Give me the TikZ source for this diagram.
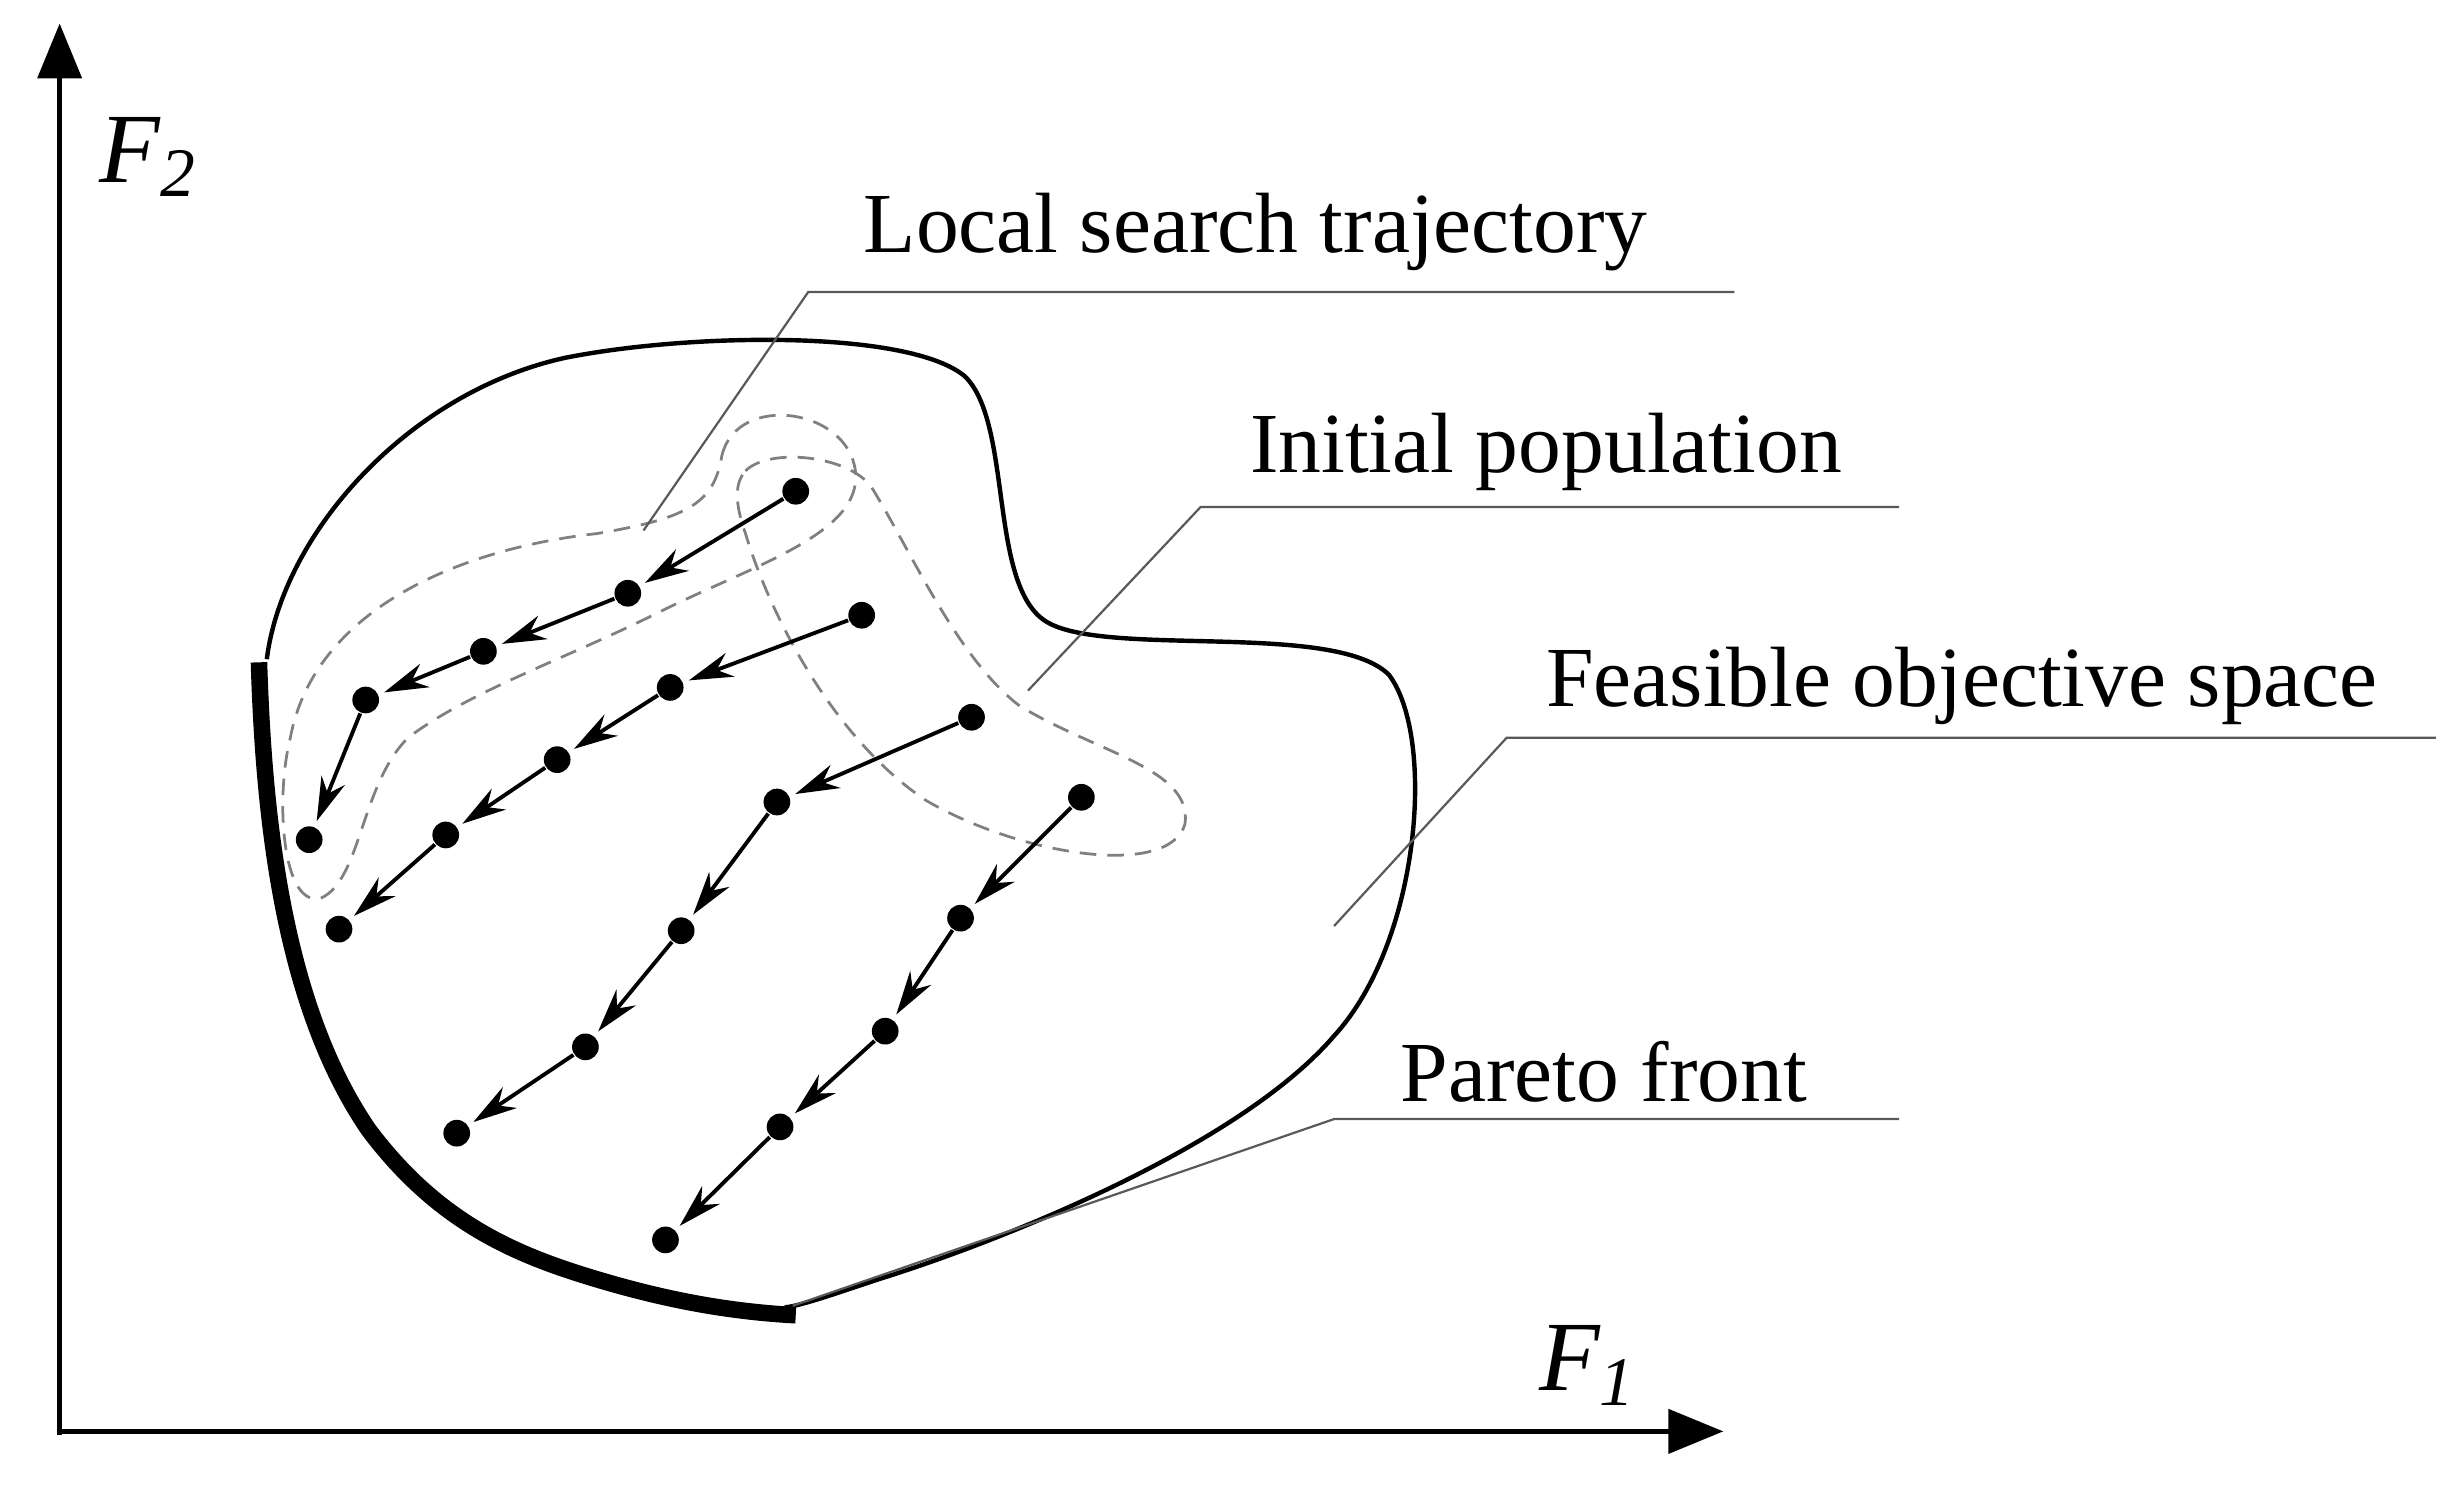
\documentclass[tikz,border=0pt]{standalone}
\usepackage{fontspec}
\setmainfont{Liberation Serif}
\usetikzlibrary{arrows.meta}
\begin{document}
\begin{tikzpicture}[x=0.01cm,y=-0.01cm,
  dot/.style={circle,fill=black,inner sep=0pt,minimum size=0.17cm},
  arr/.style={-{Stealth[length=0.28cm,width=0.16cm]},line width=0.7pt,shorten >=1pt},
  lead/.style={line width=0.4pt,gray!70!black},
  lbl/.style={font=\fontsize{15.5}{18}\selectfont,inner sep=0pt},
  dsh/.style={densely dashed,line width=0.5pt,gray}]
\useasboundingbox (0,0) rectangle (1568,949);
% axes
\draw[line width=0.8pt,-{Triangle[length=0.35cm,width=0.28cm]}] (38,914) -- (38,15);
\draw[line width=0.8pt,-{Triangle[length=0.35cm,width=0.28cm]}] (36,912) -- (1098,912);
\node[lbl,font=\fontsize{18}{22}\selectfont\itshape] (f2) at (95,100) {F\textsubscript{2}};
\node[lbl,font=\fontsize{18}{22}\selectfont\itshape] (f1) at (1012,870) {F\textsubscript{1}};
% feasible region
\draw[line width=0.8pt] (170,420) .. controls (180,340) and (260,250) .. (360,228)
  .. controls (440,212) and (580,210) .. (615,240)
  .. controls (645,270) and (630,370) .. (665,395)
  .. controls (700,420) and (850,395) .. (885,430)
  .. controls (915,470) and (905,600) .. (850,660)
  .. controls (790,730) and (640,790) .. (560,815)
  .. controls (530,825) and (510,832) .. (500,833);
% pareto front
\draw[line width=3pt] (165,422) .. controls (168,520) and (180,640) .. (235,720)
  .. controls (280,780) and (330,800) .. (380,815)
  .. controls (430,830) and (470,836) .. (507,838);
% dashed regions
\draw[dsh] (460,290) .. controls (470,250) and (540,260) .. (545,300)
  .. controls (550,340) and (480,360) .. (420,390)
  .. controls (360,420) and (300,440) .. (260,470)
  .. controls (230,500) and (230,560) .. (205,572)
  .. controls (180,580) and (175,510) .. (185,470)
  .. controls (200,390) and (290,350) .. (380,340)
  .. controls (440,330) and (455,320) .. (460,290) -- cycle;
\draw[dsh] (475,300) .. controls (490,285) and (540,290) .. (555,310)
  .. controls (580,350) and (610,420) .. (650,450)
  .. controls (700,480) and (760,490) .. (755,525)
  .. controls (745,560) and (650,545) .. (590,510)
  .. controls (530,470) and (490,390) .. (475,340)
  .. controls (468,320) and (468,308) .. (475,300) -- cycle;
% trajectories
\foreach \n/\p in {a1/{507,313},a2/{400,378},a3/{308,415},a4/{233,446},a5/{197,535},
  b1/{549,392},b2/{427,438},b3/{355,484},b4/{284,532},b5/{216,592},
  c1/{619,457},c2/{495,511},c3/{434,593},c4/{373,667},c5/{291,722},
  d1/{689,508},d2/{612,585},d3/{564,657},d4/{497,718},d5/{424,790}}
  \node[dot] (\n) at (\p) {};
\foreach \t in {a,b,c,d}{
  \draw[arr] (\t1) -- (\t2); \draw[arr] (\t2) -- (\t3);
  \draw[arr] (\t3) -- (\t4); \draw[arr] (\t4) -- (\t5);}
% labels
\node[lbl] (l1) at (800,148) {Local search trajectory};
\coordinate (l1a) at (515,186); \coordinate (l1b) at (1105,186); \coordinate (l1c) at (410,338);
\draw[lead] (l1c) -- (l1a) -- (l1b);
\node[lbl] (l2) at (985,288) {Initial population};
\coordinate (l2a) at (765,323); \coordinate (l2b) at (1210,323); \coordinate (l2c) at (655,440);
\draw[lead] (l2c) -- (l2a) -- (l2b);
\node[lbl] (l3) at (1250,437) {Feasible objective space};
\coordinate (l3a) at (960,470); \coordinate (l3b) at (1552,470); \coordinate (l3c) at (850,590);
\draw[lead] (l3c) -- (l3a) -- (l3b);
\node[lbl] (l4) at (1022,683) {Pareto front};
\coordinate (l4a) at (850,713); \coordinate (l4b) at (1210,713); \coordinate (l4c) at (505,832);
\draw[lead] (l4c) -- (l4a) -- (l4b);
\end{tikzpicture}
\end{document}
